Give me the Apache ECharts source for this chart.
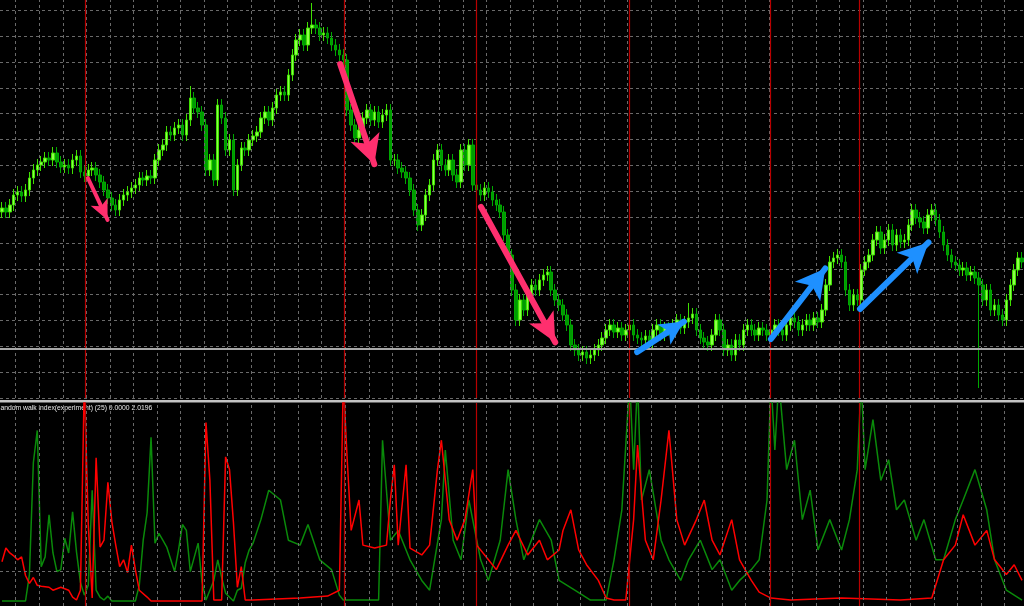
<!DOCTYPE html>
<html>
<head>
<meta charset="utf-8">
<script src="https://cdn.jsdelivr.net/npm/echarts@6.0.0/dist/echarts.min.js"></script>
<style>
    html, body { margin: 0; padding: 0; background: #000; }
    #chart { width: 1024px; height: 606px; }
</style>
</head>
<body>
<div id="chart"></div>
<script>
// closes, in points above the bottom of the price pane (1 point = 1 px)
const closes = [
    190, 186, 193, 203, 206, 202, 208, 220, 228, 233,
    236, 240, 238, 245, 236, 231, 233, 230, 238, 242,
    226, 222, 228, 230, 223, 216, 208, 200, 193, 188,
    198, 203, 206, 210, 213, 220, 218, 222, 220, 238,
    248, 253, 266, 263, 270, 273, 263, 278, 300, 290,
    286, 273, 228, 238, 218, 293, 280, 248, 258, 208,
    233, 250, 248, 258, 262, 266, 280, 286, 278, 290,
    303, 306, 303, 323, 343, 358, 363, 353, 370, 373,
    370, 363, 365, 360, 353, 348, 343, 338, 288, 273,
    260, 268, 280, 288, 278, 286, 276, 283, 288, 238,
    238, 230, 226, 220, 208, 188, 173, 183, 203, 213,
    238, 248, 233, 228, 238, 223, 216, 248, 233, 253,
    213, 208, 203, 210, 206, 198, 193, 186, 163, 143,
    108, 78, 98, 88, 103, 113, 108, 118, 123, 126,
    108, 98, 93, 83, 73, 53, 48, 43, 46, 40,
    43, 48, 53, 60, 68, 73, 66, 70, 63, 68,
    73, 63, 60, 58, 62, 56, 68, 73, 63, 70,
    68, 73, 78, 70, 76, 80, 84, 68, 60, 56,
    53, 63, 78, 68, 48, 53, 43, 58, 53, 68,
    73, 68, 63, 70, 68, 63, 68, 73, 68, 63,
    73, 80, 76, 68, 73, 78, 73, 80, 76, 88,
    113, 136, 140, 143, 136, 108, 93, 103, 98, 128,
    136, 143, 158, 166, 150, 158, 168, 153, 163, 156,
    158, 173, 188, 180, 176, 170, 183, 188, 178, 166,
    153, 143, 136, 133, 128, 130, 123, 126, 120, 113,
    98, 108, 88, 93, 83, 78, 98, 113, 128, 140, 136
];
const firstOpen = 186;
const wick = 6;
// bars with long shadows: [high, low]
const longWicks = { 48: [312, null], 79: [395, null], 175: [95, null], 249: [null, 10] };

// random walk index (25): [bar, value]
const rwiGreen = [
    [0, 0], [6, 0], [7, 0.27], [8, 1.41], [9, 1.74], [10, 0.35], [11, 0.45], [12, 0.88], [13, 0.49],
    [14, 0.30], [15, 0.32], [16, 0.64], [17, 0.49], [18, 0.91], [19, 0.50], [20, 0.19], [21, 0.06],
    [22, 0.16], [23, 1.13], [24, 0.11], [25, 0.04], [26, 0.01], [27, 0.05], [28, 0], [34, 0],
    [35, 0.16], [36, 0.62], [37, 0.90], [38, 1.67], [39, 0.59], [40, 0.69], [41, 0.62], [42, 0.55],
    [44, 0.30], [45, 0.52], [46, 0.78], [47, 0.72], [48, 0.30], [50, 0.59], [51, 0.19], [52, 0.01],
    [53, 0.11], [54, 0.21], [55, 0.42], [56, 0.24], [57, 0.08], [59, 0], [60, 0.11], [61, 0.13],
    [62, 0.39], [63, 0.52], [64, 0.59], [66, 0.83], [68, 1.13], [71, 1.03], [73, 0.62], [76, 0.57],
    [78, 0.78], [81, 0.42], [84, 0.32], [86, 0.06], [87, 0.01], [96, 0.01], [97, 1.64], [99, 0.62],
    [101, 0.72], [104, 0.42], [107, 0.21], [109, 0.11], [112, 0.83], [113, 1.54], [115, 0.62],
    [117, 0.42], [119, 1.03], [122, 0.42], [124, 0.21], [127, 0.62], [129, 1.34], [131, 0.83],
    [133, 0.42], [137, 0.83], [140, 0.62], [142, 0.21], [146, 0.11], [150, 0.01], [154, 0.01],
    [156, 0.42], [158, 0.93], [160, 2.25], [161, 1.34], [162, 2.25], [163, 1.03], [165, 1.34],
    [168, 0.62], [170, 0.42], [173, 0.21], [175, 0.42], [178, 0.62], [181, 0.32], [183, 0.42],
    [186, 0.11], [188, 0.21], [191, 0.32], [193, 0.42], [195, 1.03], [196, 2.25], [197, 1.54],
    [198, 2.25], [200, 1.34], [202, 1.64], [204, 0.83], [206, 1.13], [208, 0.52], [211, 0.83],
    [214, 0.52], [216, 0.83], [218, 1.34], [219, 2.25], [220, 1.34], [222, 1.85], [224, 1.23],
    [226, 1.44], [228, 0.93], [230, 1.03], [233, 0.62], [235, 0.83], [238, 0.42], [240, 0.42],
    [243, 0.83], [245, 1.03], [248, 1.34], [251, 0.93], [253, 0.42], [256, 0.11], [258, 0.06], [260, 0.01]
];
const rwiRed = [
    [0, 0.40], [1, 0.54], [2, 0.49], [3, 0.46], [4, 0.42], [5, 0.45], [6, 0.26], [7, 0.18], [8, 0.24],
    [9, 0.16], [10, 0.15], [12, 0.14], [13, 0.11], [15, 0.14], [17, 0.11], [18, 0.04], [19, 0.01],
    [20, 0.11], [21, 2.25], [22, 0.78], [23, 0.03], [24, 1.46], [25, 0.55], [26, 0.62], [27, 1.21],
    [28, 0.81], [29, 0.57], [30, 0.35], [31, 0.42], [32, 0.29], [33, 0.57], [34, 0.32], [35, 0.11],
    [37, 0.04], [38, 0], [51, 0], [52, 1.82], [53, 1.23], [54, 0.01], [56, 0.01], [57, 1.47],
    [58, 1.34], [59, 0.80], [60, 0.14], [61, 0.35], [62, 0.01], [64, 0.01], [76, 0.03], [83, 0.05],
    [86, 0.11], [87, 2.25], [88, 1.44], [89, 0.72], [91, 1.03], [92, 0.57], [95, 0.54], [98, 0.57],
    [99, 1.03], [100, 1.39], [101, 0.57], [103, 1.39], [104, 0.54], [107, 0.47], [109, 0.57],
    [111, 1.34], [112, 1.64], [114, 0.83], [116, 0.62], [118, 0.83], [120, 1.34], [121, 0.57],
    [124, 0.42], [126, 0.32], [129, 0.57], [131, 0.72], [134, 0.47], [137, 0.62], [139, 0.42],
    [142, 0.52], [143, 0.72], [145, 0.93], [147, 0.52], [149, 0.37], [152, 0.21], [154, 0.03],
    [156, 0.01], [159, 0.01], [161, 0.83], [162, 1.59], [164, 0.62], [166, 0.42], [168, 1.03],
    [170, 1.74], [172, 0.83], [174, 0.57], [177, 0.83], [179, 1.03], [181, 0.62], [183, 0.47],
    [186, 0.83], [188, 0.42], [191, 0.21], [193, 0.09], [196, 0.03], [201, 0.01], [214, 0.03],
    [229, 0.01], [237, 0.03], [240, 0.42], [243, 0.57], [245, 0.88], [248, 0.57], [251, 0.72],
    [253, 0.42], [256, 0.27], [258, 0.37], [260, 0.21]
];

// period separators (bar position) and the horizontal levels
const separators = [21.2, 87.3, 120.9, 160.0, 195.9, 218.4];
const levelLine = 49;
const rwiLevel = 0.3;

// hand-drawn arrows: [tail, tip] in [bar, points], head [width, length]
const pinkArrows = [
    [[21.9, 220], [28.0, 169], [14, 20]],
    [[86.2, 334], [96.1, 220], [23, 29]],
    [[122.1, 191], [142.8, 43], [21, 29]]
];
const blueArrows = [
    [[161.9, 46], [176.4, 83], [18, 24]],
    [[196.0, 59], [212.1, 141], [24, 29]],
    [[218.7, 89], [238.9, 166], [22, 30]]
];

const N = closes.length;
const pxPerBar = 1024 / N;
const categories = closes.map((c, i) => String(i));
const candles = closes.map((c, i) => {
    const o = i === 0 ? firstOpen : closes[i - 1];
    const lw = longWicks[i] || [null, null];
    const hi = lw[0] != null ? lw[0] : Math.max(o, c) + wick;
    const lo = lw[1] != null ? lw[1] : Math.min(o, c) - wick;
    return [o, c, lo, hi];
});

// vertical grid: every 6 bars, first one between bar 3 and bar 4
const vGrid = [];
for (let b = 3.5; b < N; b += 6) vGrid.push(b);

const arrowLines = (list, color) => list.map(([tail, tip, head]) => {
    const dx = (tip[0] - tail[0]) * pxPerBar;
    const dy = tip[1] - tail[1];
    const len = Math.hypot(dx, dy);
    const end = [tip[0] - dx / len * head[1] / 2 / pxPerBar, tip[1] - dy / len * head[1] / 2];
    return [
        { coord: tail, symbol: 'none', lineStyle: { color: color, width: head[1] > 22 ? 6 : 4, type: 'solid', cap: 'round' } },
        { coord: end, symbol: 'arrow', symbolSize: head, itemStyle: { color: color } }
    ];
});

const gridStyle = { color: '#6a6a6a', type: [3, 3], width: 1 };
const hidden = { show: false };
const vGridLines = vGrid.map(b => ({ xAxis: b, lineStyle: gridStyle }));
const sepLines = separators.map(s => ({ xAxis: s, lineStyle: { color: '#b80000', width: 1.2, type: 'solid' } }));

const chart = echarts.init(document.getElementById('chart'), null, { renderer: 'canvas' });
chart.setOption({
    backgroundColor: '#000000',
    animation: false,
    grid: [
        { left: 0, right: 0, top: 0, height: 398 },
        { left: 0, right: 0, top: 403, bottom: 0 }
    ],
    xAxis: [
        { type: 'category', gridIndex: 0, data: categories, boundaryGap: true, show: false },
        { type: 'category', gridIndex: 1, data: categories, boundaryGap: true, show: false },
        { type: 'value', gridIndex: 0, min: -0.5, max: N - 0.5, show: false },
        { type: 'value', gridIndex: 1, min: -0.5, max: N - 0.5, show: false }
    ],
    yAxis: [
        { type: 'value', gridIndex: 0, min: 0, max: 398, interval: 25.85,
          axisLine: hidden, axisTick: hidden, axisLabel: hidden,
          splitLine: { show: true, showMaxLine: false, lineStyle: gridStyle } },
        { type: 'value', gridIndex: 1, min: -0.051, max: 2.0196, show: false }
    ],
    series: [
        {
            type: 'line', xAxisIndex: 2, yAxisIndex: 0, data: [], silent: true, z: 1,
            markLine: {
                silent: true, symbol: 'none', label: hidden, animation: false,
                data: vGridLines.concat(sepLines)
                    .concat([{ yAxis: levelLine, lineStyle: { color: '#a8a8a8', width: 2, type: 'solid' } }])
            }
        },
        {
            type: 'line', xAxisIndex: 3, yAxisIndex: 1, data: [], silent: true, z: 1,
            markLine: {
                silent: true, symbol: 'none', label: hidden, animation: false,
                data: vGridLines.concat(sepLines)
                    .concat([{ yAxis: rwiLevel, lineStyle: gridStyle }])
            }
        },
        {
            type: 'candlestick', xAxisIndex: 0, yAxisIndex: 0,
            data: candles, barMaxWidth: 3, barWidth: 3,
            itemStyle: {
                color: '#8cff4a', color0: '#009a00',
                borderColor: '#3fe000', borderColor0: '#00a800', borderWidth: 1
            }
        },
        {
            type: 'line', xAxisIndex: 2, yAxisIndex: 0, data: [], silent: true, z: 5,
            markLine: {
                silent: true, label: hidden, animation: false,
                data: arrowLines(pinkArrows, '#ff2f6e').concat(arrowLines(blueArrows, '#1e90ff'))
            }
        },
        {
            name: 'green', type: 'line', xAxisIndex: 3, yAxisIndex: 1, data: rwiGreen,
            showSymbol: false, lineStyle: { color: '#0a8a0a', width: 1.5 }
        },
        {
            name: 'red', type: 'line', xAxisIndex: 3, yAxisIndex: 1, data: rwiRed,
            showSymbol: false, lineStyle: { color: '#ff0000', width: 1.5 }
        }
    ],
    graphic: [
        { type: 'rect', left: 0, top: 400, shape: { width: 1024, height: 2.5 }, style: { fill: '#c4c4c4' }, silent: true },
        { type: 'text', left: -4.5, top: 405,
          style: { text: 'Random walk index(experiment) (25) 0.0000 2.0196', fill: '#e8e8e8',
                   font: '6.8px "Liberation Sans"' } }
    ]
});
</script>
</body>
</html>
